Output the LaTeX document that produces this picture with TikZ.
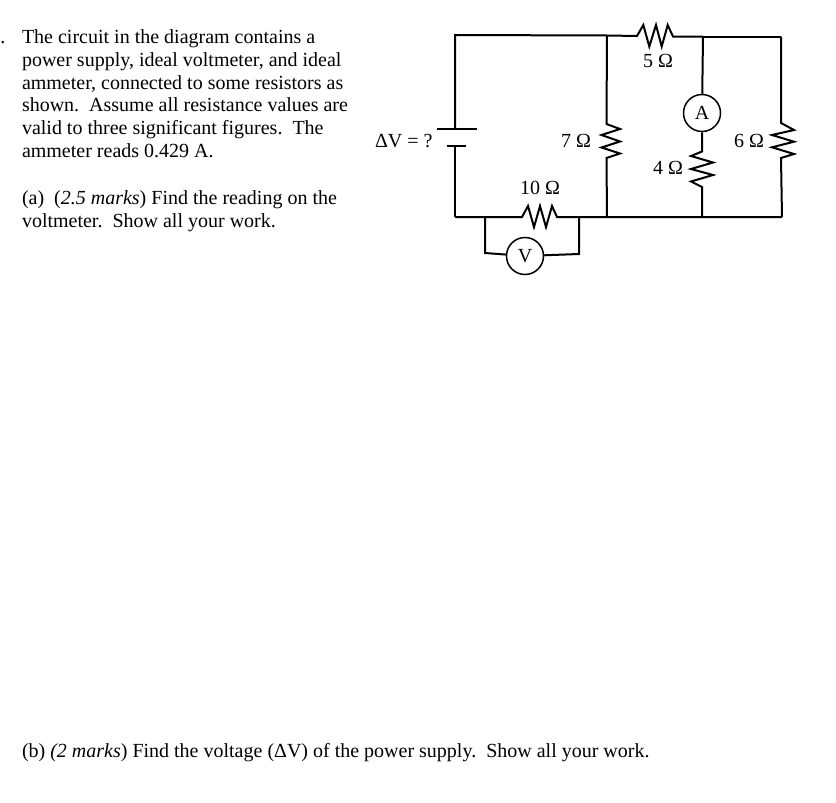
\documentclass[tikz,border=0pt]{standalone}
\usepackage{fontspec}
\setmainfont{Liberation Serif}
\begin{document}
\begin{tikzpicture}[x=1pt,y=-1pt,
  wire/.style={line width=2pt,line join=miter,black},
  txt/.style={inner sep=0pt,outer sep=0pt,font=\fontsize{20}{22.9}\selectfont,align=left,anchor=base west,text=black},
  lbl/.style={inner sep=0pt,outer sep=0pt,font=\fontsize{20}{22.9}\selectfont,anchor=base,text=black},
  meter/.style={circle,draw=black,line width=1.5pt,fill=white,minimum size=37pt,inner sep=0pt,font=\fontsize{20}{22.9}\selectfont},
]
\useasboundingbox[fill=white] (0,0) rectangle (836,803);
% text
\node[txt] (dot) at (0.5,43.3) {.};
\node[txt] (stem) at (22,157.7) {The circuit in the diagram contains a\\power supply, ideal voltmeter, and ideal\\ammeter, connected to some resistors as\\shown.\ \ Assume all resistance values are\\valid to three significant figures.\ \ The\\ammeter reads 0.429 A.};
\node[txt] (parta) at (22,227) {(a)\ \ (\textit{2.5 marks}) Find the reading on the\\voltmeter.\ \ Show all your work.};
\node[txt] (partb) at (22,757) {(b) \textit{(2 marks}) Find the voltage (ΔV) of the power supply.\ \ Show all your work.};
% junctions
\coordinate (tl) at (455,35);
\coordinate (t7) at (607,35.5);
\coordinate (tA) at (703,36.5);
\coordinate (tr) at (781,36.5);
\coordinate (bl) at (455,217);
\coordinate (vl) at (485,217);
\coordinate (vr) at (579,217);
\coordinate (b7) at (607,217);
\coordinate (b4) at (702,217);
\coordinate (br) at (782,217);
\coordinate (vlb) at (485,253);
\coordinate (vrb) at (579,254);
% battery
\coordinate (plusT) at (455,129);
\coordinate (minusB) at (455,146);
\coordinate (p1) at (437,129);
\coordinate (p2) at (477,129);
\coordinate (m1) at (447,146);
\coordinate (m2) at (466,146);
\draw[wire] (p1) -- (p2);
\draw[wire] (m1) -- (m2);
\draw[wire] (plusT) -- (tl) -- (t7);
\draw[wire] (minusB) -- (bl);
% 5 ohm
\coordinate (r5a) at (637,36);
\coordinate (r5b) at (673,36.5);
\draw[wire] (t7) -- (r5a) -- ++(6.3,-11) -- ++(6,21.5) -- ++(6.7,-21.5) -- ++(5.7,21.5) -- ++(6,-21.5) -- (r5b) -- (tA);
\draw[wire] (tA) -- (tr);
% 7 ohm
\coordinate (r7a) at (606.5,124);
\coordinate (r7b) at (606.5,158);
\draw[wire] (t7) -- (r7a) -- ++(13.5,5) -- ++(-18.5,6) -- ++(18.5,6.5) -- ++(-18.5,6) -- ++(18.5,6) -- (r7b) -- (b7);
% A branch
\node[meter] (A) at (702,113) {A};
\coordinate (r4a) at (702,151.5);
\coordinate (r4b) at (702,187);
\draw[wire] (tA) -- (A);
\draw[wire] (A) -- (r4a) -- ++(-11,4.5) -- ++(22,6.5) -- ++(-22,6.5) -- ++(22,6) -- ++(-22,6.5) -- (r4b) -- (b4);
% 6 ohm
\coordinate (r6a) at (781,123);
\coordinate (r6b) at (781,158);
\draw[wire] (tr) -- (r6a) -- ++(13,7) -- ++(-22,5) -- ++(22,6.7) -- ++(-22,5.6) -- ++(22,6.7) -- (r6b) -- (br);
% bottom
\coordinate (r10a) at (522,217);
\coordinate (r10b) at (557,217);
\draw[wire] (bl) -- (vl) -- (r10a) -- ++(6,-11) -- ++(6,21) -- ++(6,-21) -- ++(6,21) -- ++(6,-21) -- (r10b) -- (vr) -- (b7) -- (b4) -- (br);
% voltmeter
\node[meter] (V) at (525,256) {V};
\draw[wire] (vl) -- (vlb) -- (V);
\draw[wire] (vr) -- (vrb) -- (V);
% labels
\node[lbl] (l5) at (658,67) {5 Ω};
\node[lbl] (l7) at (576,147) {7 Ω};
\node[lbl] (l4) at (668,174) {4 Ω};
\node[lbl] (l6) at (749,147) {6 Ω};
\node[lbl] (l10) at (540,194) {10 Ω};
\node[txt] (ldv) at (375,147) {ΔV = ?};
\end{tikzpicture}
\end{document}
